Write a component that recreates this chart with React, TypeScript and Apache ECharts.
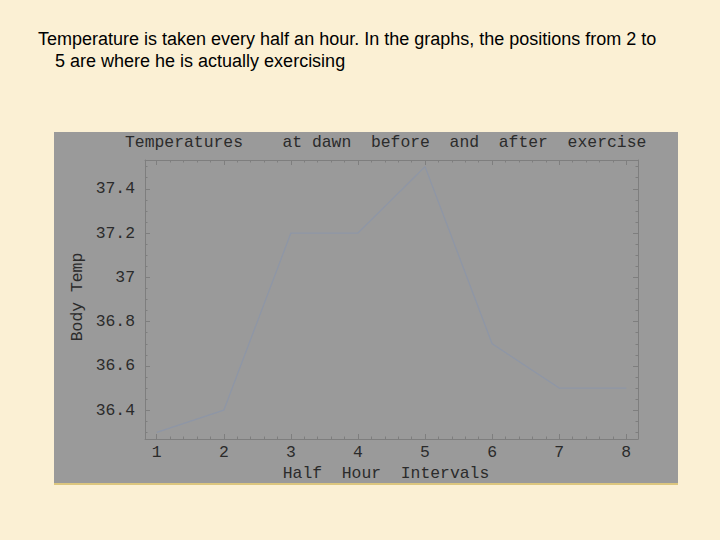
import React, { useEffect, useRef } from "react";
import * as echarts from "echarts";

const intervals = [1, 2, 3, 4, 5, 6, 7, 8];
const bodyTemp = [36.3, 36.4, 37.2, 37.2, 37.5, 36.7, 36.5, 36.5];
const xTickLabels = [1, 2, 3, 4, 5, 6, 7, 8];
const yTickLabels = [36.4, 36.6, 36.8, 37, 37.2, 37.4];

const captionLine1 = "Temperature is taken every half an hour. In the graphs, the positions from 2 to";
const captionLine2 = "5 are where he is actually exercising";
const chartTitle = "Temperatures    at dawn  before  and  after  exercise";
const xName = "Half  Hour  Intervals";
const yName = "Body Temp";

const X_MIN = 0.825;
const X_MAX = 8.175;
const Y_MIN = 36.27;
const Y_MAX = 37.53;

function minorTicks(lo: number, hi: number, step: number, major: number): number[] {
  const out: number[] = [];
  const n = Math.round((hi - lo) / step);
  for (let i = 0; i <= n; i++) {
    const v = +(lo + i * step).toFixed(4);
    const r = v / major;
    if (Math.abs(r - Math.round(r)) > 1e-6) out.push(v);
  }
  return out;
}

const xMinor = minorTicks(1, 8, 0.2, 1);
const yMinor = minorTicks(36.3, 37.5, 0.05, 0.2);

const FONT = "'Liberation Mono', 'Courier New', monospace";
const FRAME = "#7e7e7e";
const TEXT = "#2b2b2b";

export default function App() {
  const ref = useRef<HTMLDivElement>(null);
  useEffect(() => {
    if (!ref.current) return;
    const chart = echarts.init(ref.current, undefined, { renderer: "svg" });

    const baseX = (position: "bottom" | "top", ticks: number[], len: number, line: boolean, labels: boolean) => ({
      type: "value" as const,
      gridIndex: 0,
      position,
      min: X_MIN,
      max: X_MAX,
      axisLine: { show: line, onZero: false, lineStyle: { color: FRAME, width: 1 } },
      axisTick: { show: true, inside: true, length: len, customValues: ticks, lineStyle: { color: FRAME, width: 1 } },
      axisLabel: labels
        ? { show: true, customValues: xTickLabels, margin: 5, color: TEXT, fontFamily: FONT, fontSize: 16.4, formatter: (v: number) => String(v) }
        : { show: false },
      splitLine: { show: false },
    });
    const baseY = (position: "left" | "right", ticks: number[], len: number, line: boolean, labels: boolean) => ({
      type: "value" as const,
      gridIndex: 0,
      position,
      min: Y_MIN,
      max: Y_MAX,
      axisLine: { show: line, onZero: false, lineStyle: { color: FRAME, width: 1 } },
      axisTick: { show: true, inside: true, length: len, customValues: ticks, lineStyle: { color: FRAME, width: 1 } },
      axisLabel: labels
        ? {
            show: true,
            customValues: yTickLabels,
            margin: 10,
            color: TEXT,
            fontFamily: FONT,
            fontSize: 16.4,
            formatter: (v: number) => String(+v.toFixed(1)),
          }
        : { show: false },
      splitLine: { show: false },
    });

    chart.setOption({
      animation: false,
      backgroundColor: "#fbf0d4",
      grid: { left: 145, top: 160, width: 493, height: 279, containLabel: false },
      xAxis: [
        baseX("bottom", xTickLabels, 5, true, true),
        baseX("bottom", xMinor, 2.5, false, false),
        baseX("top", xTickLabels, 5, true, false),
        baseX("top", xMinor, 2.5, false, false),
      ],
      yAxis: [
        baseY("left", yTickLabels, 5, true, true),
        baseY("left", yMinor, 2.5, false, false),
        baseY("right", yTickLabels, 5, true, false),
        baseY("right", yMinor, 2.5, false, false),
      ],
      graphic: [
        {
          type: "rect",
          z: -10,
          shape: { x: 54, y: 132, width: 624, height: 351 },
          style: { fill: "#9a9a9a" },
          silent: true,
        },
        {
          type: "line",
          z: -10,
          shape: { x1: 54, y1: 484, x2: 678, y2: 484 },
          style: { stroke: "#dcc67e", lineWidth: 2 },
          silent: true,
        },
        {
          type: "text",
          x: 38,
          y: 39,
          style: { text: captionLine1, fill: "#000", font: "18px 'Liberation Sans', Arial, sans-serif", verticalAlign: "middle" },
        },
        {
          type: "text",
          x: 55,
          y: 61,
          style: { text: captionLine2, fill: "#000", font: "18px 'Liberation Sans', Arial, sans-serif", verticalAlign: "middle" },
        },
        {
          type: "text",
          x: 125,
          y: 142,
          style: { text: chartTitle, fill: TEXT, font: `16.4px ${FONT}`, verticalAlign: "middle", align: "left" },
        },
        {
          type: "text",
          x: 386,
          y: 473,
          style: { text: xName, fill: TEXT, font: `16.4px ${FONT}`, verticalAlign: "middle", align: "center" },
        },
        {
          type: "text",
          x: 77,
          y: 297,
          rotation: Math.PI / 2,
          style: { text: yName, fill: TEXT, font: `16.4px ${FONT}`, verticalAlign: "middle", align: "center" },
        },
      ],
      series: [
        {
          type: "line",
          xAxisIndex: 0,
          yAxisIndex: 0,
          data: intervals.map((x, i) => [x, bodyTemp[i]]),
          showSymbol: false,
          symbol: "none",
          lineStyle: { color: "#8e96a6", width: 1.3 },
          silent: true,
        },
      ],
    });
    return () => chart.dispose();
  }, []);
  return <div ref={ref} style={{ position: "absolute", left: 0, top: 0, width: 720, height: 540 }} />;
}
